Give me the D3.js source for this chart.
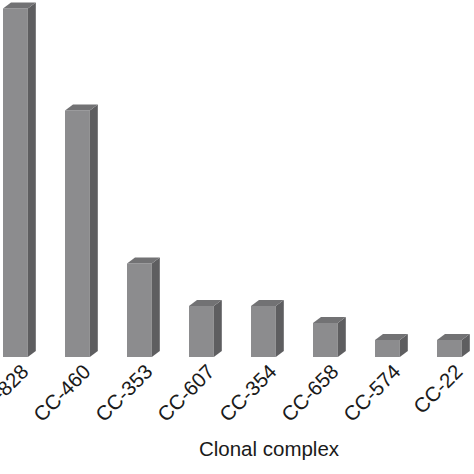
<!DOCTYPE html>
<html>
<head>
<meta charset="utf-8">
<script src="https://cdn.jsdelivr.net/npm/d3@7"></script>
<style>
html,body{margin:0;padding:0;background:#fff;}
svg{display:block;}
text{font-family:"Liberation Sans",Arial,Helvetica,sans-serif;fill:#1a1a1a;}
</style>
</head>
<body>
<svg id="chart" width="474" height="474"></svg>
<script>
const categories = ["CC-828","CC-460","CC-353","CC-607","CC-354","CC-658","CC-574","CC-22"];
const counts = [41, 29, 11, 6, 6, 4, 2, 2];
const axisTitle = "Clonal complex";

const W = 474, H = 474;
const baseY = 357;
const depthX = 8, depthY = 6;

const svg = d3.select("#chart");

const x = d3.scaleBand()
  .domain(categories)
  .range([-15.6, 480.4])
  .paddingInner(0.6)
  .paddingOuter(0.3);

const y = d3.scaleLinear()
  .domain([0, 42])
  .range([baseY, 0]);

const bw = x.bandwidth();

const bars = svg.append("g").selectAll("g")
  .data(categories.map((c, i) => ({c, v: counts[i]})))
  .join("g");

// front face
bars.append("rect")
  .attr("x", d => x(d.c))
  .attr("y", d => y(d.v))
  .attr("width", bw)
  .attr("height", d => y(0) - y(d.v))
  .attr("fill", "#8c8c8e");

// side face
bars.append("path")
  .attr("d", d => {
    const x1 = x(d.c) + bw, yt = y(d.v), yb = y(0);
    return `M${x1},${yt}L${x1 + depthX},${yt - depthY}L${x1 + depthX},${yb - depthY}L${x1},${yb}Z`;
  })
  .attr("fill", "#5e5e60");

// top face
bars.append("path")
  .attr("d", d => {
    const x0 = x(d.c), yt = y(d.v);
    return `M${x0},${yt}L${x0 + depthX},${yt - depthY}L${x0 + bw + depthX},${yt - depthY}L${x0 + bw},${yt}Z`;
  })
  .attr("fill", "#727274");

// category labels, rotated
svg.append("g").selectAll("text")
  .data(categories)
  .join("text")
  .attr("text-anchor", "end")
  .attr("font-size", 20.5)
  .attr("transform", d => `translate(${x(d) + bw / 2 + 14.5},373) rotate(-45)`)
  .text(d => d);

svg.append("text")
  .attr("x", 269)
  .attr("y", 456)
  .attr("text-anchor", "middle")
  .attr("font-size", 20.5)
  .text(axisTitle);
</script>
</body>
</html>
